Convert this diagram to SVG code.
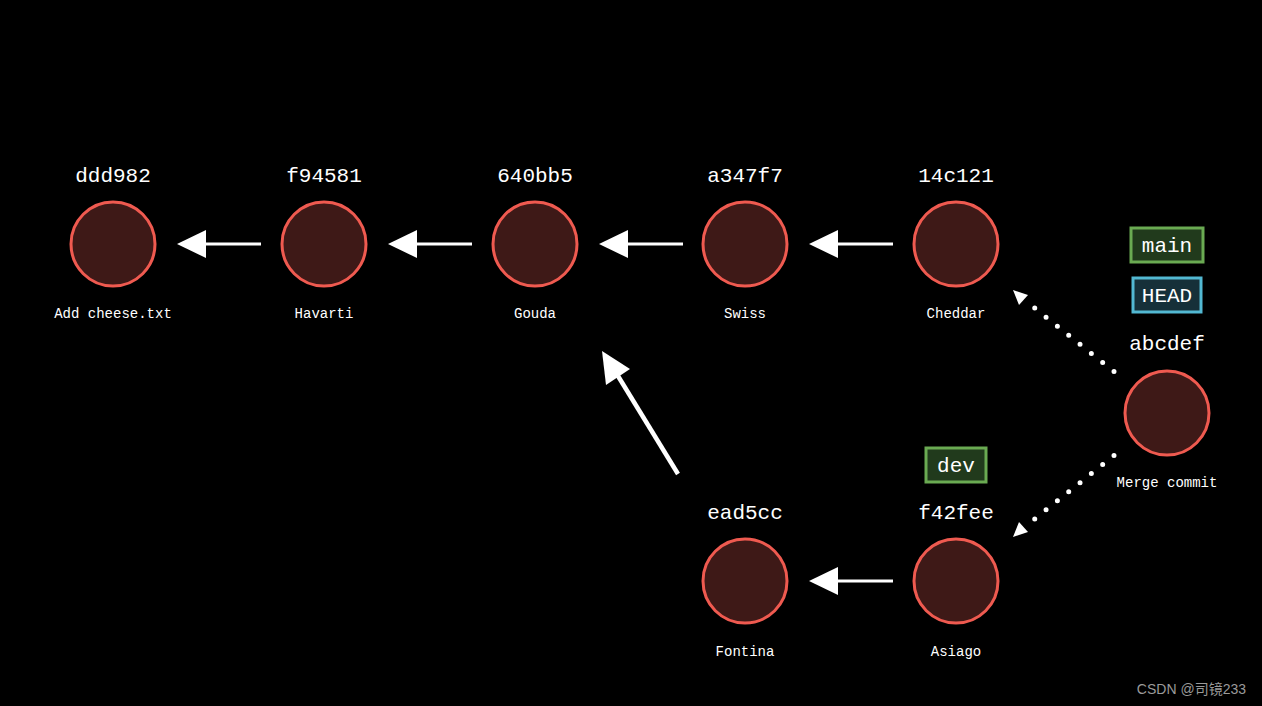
<svg xmlns="http://www.w3.org/2000/svg" width="1262" height="706" viewBox="0 0 1262 706">
<defs>
<style>
.c{fill:#3e1917;stroke:#ef5a50;stroke-width:3}
.h{font-family:"Liberation Mono","Courier New",monospace;font-size:21px;fill:#ffffff;text-anchor:middle}
.l{font-family:"Liberation Mono","Courier New",monospace;font-size:14px;fill:#ffffff;text-anchor:middle}
.e{stroke:#ffffff;stroke-width:3;fill:none}
.d{stroke:#ffffff;stroke-width:5;stroke-linecap:round;stroke-dasharray:0 14.5;fill:none}
.ah{fill:#ffffff}
.bg{fill:#213a1c;stroke:#6aaa52;stroke-width:3}
.bc{fill:#163039;stroke:#52b8d2;stroke-width:3}
</style>
</defs>
<rect width="1262" height="706" fill="#000000"/>
<g id="connectors">
<line class="e" x1="261" y1="244" x2="205" y2="244"/><polygon class="ah" points="177,244 206,230 206,258"/>
<line class="e" x1="472" y1="244" x2="416" y2="244"/><polygon class="ah" points="388,244 417,230 417,258"/>
<line class="e" x1="683" y1="244" x2="627" y2="244"/><polygon class="ah" points="599,244 628,230 628,258"/>
<line class="e" x1="893" y1="244" x2="837" y2="244"/><polygon class="ah" points="809,244 838,230 838,258"/>
<line class="e" x1="893" y1="581" x2="837" y2="581"/><polygon class="ah" points="809,581 838,567 838,595"/>
<line class="e" style="stroke-width:4.5" x1="678" y1="474" x2="618" y2="376"/><polygon class="ah" points="602,351 630,369 606,385"/>
<path class="d" d="M1114,371.5 L1034,307.5"/><polygon class="ah" points="1013,290 1028,295 1019,305"/>
<path class="d" d="M1114,455.5 L1034,519.5"/><polygon class="ah" points="1013,537 1019,522 1028,532"/>
</g>
<g id="n-ddd982"><text class="h" x="113" y="182">ddd982</text><circle class="c" cx="113" cy="244" r="42"/><text class="l" x="113" y="318">Add cheese.txt</text></g>
<g id="n-f94581"><text class="h" x="324" y="182">f94581</text><circle class="c" cx="324" cy="244" r="42"/><text class="l" x="324" y="318">Havarti</text></g>
<g id="n-640bb5"><text class="h" x="535" y="182">640bb5</text><circle class="c" cx="535" cy="244" r="42"/><text class="l" x="535" y="318">Gouda</text></g>
<g id="n-a347f7"><text class="h" x="745" y="182">a347f7</text><circle class="c" cx="745" cy="244" r="42"/><text class="l" x="745" y="318">Swiss</text></g>
<g id="n-14c121"><text class="h" x="956" y="182">14c121</text><circle class="c" cx="956" cy="244" r="42"/><text class="l" x="956" y="318">Cheddar</text></g>
<g id="n-abcdef"><text class="h" x="1167" y="350">abcdef</text><circle class="c" cx="1167" cy="413" r="42"/><text class="l" x="1167" y="487">Merge commit</text></g>
<g id="n-ead5cc"><text class="h" x="745" y="519">ead5cc</text><circle class="c" cx="745" cy="581" r="42"/><text class="l" x="745" y="656">Fontina</text></g>
<g id="n-f42fee"><text class="h" x="956" y="519">f42fee</text><circle class="c" cx="956" cy="581" r="42"/><text class="l" x="956" y="656">Asiago</text></g>
<g id="b-main"><rect class="bg" x="1131" y="228" width="72" height="34"/><text class="h" x="1167" y="252">main</text></g>
<g id="b-head"><rect class="bc" x="1133" y="278" width="68" height="34"/><text class="h" x="1167" y="302">HEAD</text></g>
<g id="b-dev"><rect class="bg" x="926" y="448" width="60" height="34"/><text class="h" x="956" y="472">dev</text></g>
<text x="1246" y="694" font-family="'Liberation Sans','Noto Sans CJK SC',sans-serif" font-size="14" fill="#9a9a9a" text-anchor="end">CSDN @司镜233</text>
</svg>
